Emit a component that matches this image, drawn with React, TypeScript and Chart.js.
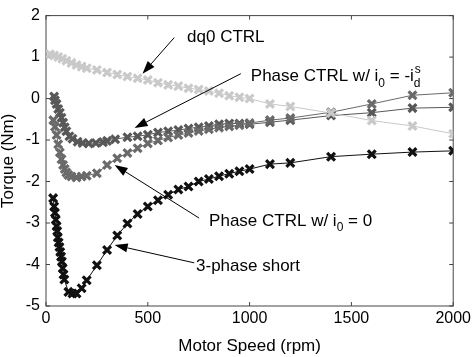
import { useEffect, useRef } from "react";
import { Chart, registerables } from "chart.js";
Chart.register(...registerables);

// ---- data (Motor speed in rpm, torque in Nm) ----
const dq0Speed = [20, 40, 60, 80, 100, 125, 150, 175, 200, 250, 300, 350, 400, 450, 500, 550, 600, 650, 700, 750, 800, 850, 900, 950, 1000, 1100, 1200, 1400, 1600, 1800, 2000];
const dq0Torque = [1.07, 1.04, 1.0, 0.96, 0.91, 0.86, 0.81, 0.77, 0.73, 0.69, 0.63, 0.58, 0.53, 0.49, 0.45, 0.38, 0.33, 0.3, 0.25, 0.22, 0.18, 0.13, 0.07, 0.03, 0.0, -0.13, -0.19, -0.35, -0.53, -0.66, -0.85];

const negIdSpeed = [40, 44, 52, 60, 68, 76, 84, 92, 100, 115, 130, 155, 180, 210, 245, 280, 300, 340, 400, 450, 500, 550, 600, 650, 700, 750, 800, 850, 900, 950, 1000, 1100, 1200, 1400, 1600, 1800, 2000];
const negIdTorque = [0.05, -0.04, -0.13, -0.25, -0.34, -0.46, -0.58, -0.69, -0.79, -0.91, -0.97, -1.04, -1.07, -1.08, -1.07, -1.05, -1.02, -0.98, -0.93, -0.91, -0.87, -0.82, -0.79, -0.76, -0.72, -0.69, -0.66, -0.62, -0.6, -0.6, -0.62, -0.57, -0.52, -0.41, -0.34, -0.23, -0.21];

const zeroSpeed = [36, 44, 52, 60, 68, 76, 84, 92, 100, 110, 125, 150, 175, 200, 250, 300, 350, 400, 450, 500, 550, 600, 650, 700, 750, 800, 850, 900, 950, 1000, 1100, 1200, 1400, 1600, 1800, 2000];
const zeroTorque = [-0.52, -0.68, -0.88, -1.1, -1.3, -1.46, -1.6, -1.7, -1.78, -1.84, -1.88, -1.9, -1.88, -1.86, -1.8, -1.6, -1.44, -1.31, -1.2, -1.08, -1.01, -0.94, -0.88, -0.83, -0.78, -0.74, -0.7, -0.67, -0.64, -0.59, -0.52, -0.47, -0.33, -0.13, 0.08, 0.14];

const shortSpeed = [35, 40, 44, 48, 52, 55, 58, 62, 66, 70, 74, 78, 82, 86, 90, 110, 130, 150, 175, 200, 250, 300, 350, 400, 450, 500, 550, 600, 650, 700, 750, 800, 850, 900, 950, 1000, 1100, 1200, 1400, 1600, 1800, 2000];
const shortTorque = [-2.4, -2.6, -2.75, -2.92, -3.08, -3.19, -3.35, -3.47, -3.58, -3.7, -3.81, -3.93, -4.09, -4.24, -4.36, -4.66, -4.7, -4.7, -4.57, -4.38, -4.02, -3.65, -3.3, -3.01, -2.78, -2.6, -2.45, -2.32, -2.19, -2.12, -2.0, -1.94, -1.87, -1.81, -1.75, -1.7, -1.58, -1.55, -1.4, -1.34, -1.29, -1.26];

const xTicks = [0, 500, 1000, 1500, 2000];
const yTicks = [-5, -4, -3, -2, -1, 0, 1, 2];

// annotation labels (positions in data units)
type Part = [string, "n" | "sub" | "sup"];
const notes: { at: [number, number]; parts: Part[]; from: [number, number]; to: [number, number] }[] = [
  { at: [693, 1.47], parts: [["dq0 CTRL", "n"]], from: [630, 1.47], to: [474, 0.6] },
  { at: [1006, 0.53], parts: [["Phase CTRL w/ i", "n"], ["0", "sub"], [" = -i", "n"], ["d", "sub"], ["s", "sup"]], from: [957, 0.6], to: [435, -0.71] },
  { at: [801, -2.95], parts: [["Phase CTRL w/ i", "n"], ["0", "sub"], [" = 0", "n"]], from: [752, -2.88], to: [337, -1.6] },
  { at: [737, -4.05], parts: [["3-phase short", "n"]], from: [728, -3.96], to: [337, -3.53] },
];

const FONT = '"Liberation Sans", Arial, Helvetica, sans-serif';

const framePlugin = {
  id: "frame",
  beforeDatasetsDraw(chart: any) {
    const { ctx, chartArea: a, scales } = chart;
    const x = scales.x, y = scales.y;
    ctx.save();
    ctx.strokeStyle = "#444";
    ctx.lineWidth = 1;
    ctx.strokeRect(a.left, a.top, a.right - a.left, a.bottom - a.top);
    ctx.beginPath();
    for (const t of xTicks) {
      const px = x.getPixelForValue(t);
      ctx.moveTo(px, a.bottom);
      ctx.lineTo(px, a.bottom - 4);
      ctx.moveTo(px, a.top);
      ctx.lineTo(px, a.top + 4);
    }
    for (const t of yTicks) {
      const py = y.getPixelForValue(t);
      ctx.moveTo(a.left, py);
      ctx.lineTo(a.left + 4, py);
      ctx.moveTo(a.right, py);
      ctx.lineTo(a.right - 4, py);
    }
    ctx.stroke();
    ctx.restore();
  },
  afterDatasetsDraw(chart: any) {
    const { ctx, scales } = chart;
    const x = scales.x, y = scales.y;
    ctx.save();
    for (const n of notes) {
      const x0 = x.getPixelForValue(n.from[0]);
      const y0 = y.getPixelForValue(n.from[1]);
      const x1 = x.getPixelForValue(n.to[0]);
      const y1 = y.getPixelForValue(n.to[1]);
      const ang = Math.atan2(y1 - y0, x1 - x0);
      const L = 13, W = 4.5;
      const bx = x1 - L * Math.cos(ang), by = y1 - L * Math.sin(ang);
      ctx.strokeStyle = "#000";
      ctx.fillStyle = "#000";
      ctx.lineWidth = 1;
      ctx.beginPath();
      ctx.moveTo(x0, y0);
      ctx.lineTo(bx, by);
      ctx.stroke();
      ctx.beginPath();
      ctx.moveTo(x1, y1);
      ctx.lineTo(bx + W * Math.sin(ang), by - W * Math.cos(ang));
      ctx.lineTo(bx - W * Math.sin(ang), by + W * Math.cos(ang));
      ctx.closePath();
      ctx.fill();

      let cx = x.getPixelForValue(n.at[0]);
      const cy = y.getPixelForValue(n.at[1]);
      ctx.textBaseline = "middle";
      ctx.textAlign = "left";
      let lastSubX = cx;
      for (const [txt, kind] of n.parts) {
        if (kind === "n") {
          ctx.font = `17px ${FONT}`;
          ctx.fillText(txt, cx, cy);
          cx += ctx.measureText(txt).width;
        } else if (kind === "sub") {
          ctx.font = `12px ${FONT}`;
          lastSubX = cx;
          ctx.fillText(txt, cx, cy + 7);
          cx += ctx.measureText(txt).width;
        } else {
          ctx.font = `12px ${FONT}`;
          ctx.fillText(txt, lastSubX + 1, cy - 7);
        }
      }
    }
    ctx.restore();
  },
};

function ds(label: string, xs: number[], ys: number[], color: string) {
  return {
    label,
    data: xs.map((v, i) => ({ x: v, y: ys[i] })),
    showLine: true,
    borderColor: color,
    backgroundColor: color,
    borderWidth: 1,
    pointStyle: "crossRot",
    pointRadius: 5.5,
    pointBorderWidth: 3.2,
    pointBorderColor: color,
    pointHoverRadius: 5.5,
  };
}

export default function App() {
  const ref = useRef<HTMLCanvasElement>(null);
  useEffect(() => {
    document.body.style.margin = "0";
    const chart = new Chart(ref.current!, {
      type: "scatter",
      data: {
        datasets: [
          ds("dq0 CTRL", dq0Speed, dq0Torque, "#c9c9c9"),
          ds("Phase CTRL w/ i0 = 0", zeroSpeed, zeroTorque, "#6a6a6a"),
          ds("Phase CTRL w/ i0 = -id", negIdSpeed, negIdTorque, "#585858"),
          ds("3-phase short", shortSpeed, shortTorque, "#111111"),
        ] as any,
      },
      options: {
        animation: false,
        responsive: false,
        maintainAspectRatio: false,
        layout: { padding: { left: 0, right: 18, top: 5, bottom: 0 } },
        plugins: { legend: { display: false }, tooltip: { enabled: false } },
        scales: {
          x: {
            type: "linear",
            min: 0,
            max: 2000,
            afterBuildTicks: (s: any) => {
              s.ticks = xTicks.map((v) => ({ value: v }));
            },
            ticks: { color: "#000", font: { size: 16, family: FONT }, padding: 3, maxRotation: 0, callback: (v: any) => String(v) },
            grid: { display: false, drawTicks: false },
            border: { display: false },
            title: { display: true, text: "Motor Speed (rpm)", color: "#000", font: { size: 17, family: FONT, lineHeight: 1.2 }, padding: 0 },
            afterFit: (s: any) => {
              s.height = 51;
            },
          },
          y: {
            type: "linear",
            min: -5,
            max: 2,
            afterBuildTicks: (s: any) => {
              s.ticks = yTicks.map((v) => ({ value: v }));
            },
            ticks: { color: "#000", font: { size: 16, family: FONT }, padding: 6, callback: (v: any) => String(v) },
            grid: { display: false, drawTicks: false },
            border: { display: false },
            title: { display: true, text: "Torque (Nm)", color: "#000", font: { size: 17, family: FONT, lineHeight: 1 }, padding: 0 },
            afterFit: (s: any) => {
              s.width = 46;
            },
          },
        },
      } as any,
      plugins: [framePlugin],
    });
    return () => chart.destroy();
  }, []);
  return (
    <div style={{ position: "absolute", left: 0, top: 0, width: 474, height: 357 }}>
      <canvas ref={ref} width={474} height={357} style={{ width: 474, height: 357 }} />
    </div>
  );
}
